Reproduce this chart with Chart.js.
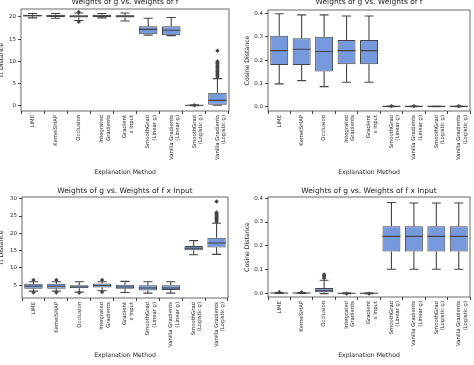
<!DOCTYPE html>
<html><head><meta charset="utf-8">
<script src="https://cdn.jsdelivr.net/npm/chart.js@4"></script>
<style>
html,body{margin:0;padding:0;background:#fff}
body{width:474px;height:365px;overflow:hidden;position:relative}
canvas{position:absolute}
</style></head><body>
<canvas id="c1" width="238" height="182" style="left:-2px;top:-2px"></canvas>
<canvas id="c2" width="234" height="182" style="left:240px;top:-2px"></canvas>
<canvas id="c3" width="238" height="182" style="left:-2px;top:183px"></canvas>
<canvas id="c4" width="234" height="182" style="left:240px;top:183px"></canvas>
<script>
// ---- categories ----
const categories = [["LIME"],["KernelSHAP"],["Occlusion"],["Integrated","Gradients"],["Gradient","x Input"],
  ["SmoothGrad","(Linear g)"],["Vanilla Gradients","(Linear g)"],["SmoothGrad","(Logistic g)"],["Vanilla Gradients","(Logistic g)"]];

// ---- Panel 1: l1 distance, weights of g vs weights of f ----
const l1F_lo  = [19.8, 19.7, 19.2, 19.8, 19.1, 15.9, 15.8, 0.0, 0.1];
const l1F_q1  = [20.1, 20.0, 19.9, 20.0, 19.9, 16.1, 15.9, 0.05, 0.2];
const l1F_med = [20.3, 20.25, 20.15, 20.25, 20.2, 17.2, 17.0, 0.1, 1.2];
const l1F_q3  = [20.5, 20.5, 20.4, 20.5, 20.4, 17.9, 17.9, 0.15, 2.9];
const l1F_hi  = [20.8, 20.8, 20.9, 20.8, 20.9, 19.7, 19.9, 0.2, 6.1];
const l1F_out = [[],[],[18.9, 21.1],[],[],[],[],[0.1],
  [6.5,6.8,7.1,7.4,7.7,8.0,8.3,8.6,8.9,9.2,9.5,9.8,10.0,12.4]];

// ---- Panel 2: cosine distance, weights of g vs weights of f ----
const cosF_lo  = [0.098, 0.112, 0.086, 0.105, 0.105, 0.0, 0.0, 0.0, 0.0];
const cosF_q1  = [0.179, 0.179, 0.151, 0.182, 0.182, 0.0008, 0.0008, 0.0008, 0.0008];
const cosF_med = [0.241, 0.247, 0.237, 0.241, 0.241, 0.001, 0.001, 0.001, 0.001];
const cosF_q3  = [0.305, 0.294, 0.301, 0.287, 0.287, 0.0012, 0.0012, 0.0012, 0.0012];
const cosF_hi  = [0.400, 0.395, 0.395, 0.390, 0.390, 0.002, 0.002, 0.002, 0.002];
const cosF_out = [[],[],[],[],[],[0.002],[0.002],[],[0.002]];

// ---- Panel 3: l1 distance, weights of g vs weights of f x input ----
const l1FI_lo  = [3.3, 3.3, 3.0, 3.4, 2.9, 2.7, 2.7, 13.8, 13.9];
const l1FI_q1  = [4.0, 4.0, 4.1, 4.3, 4.0, 3.5, 3.6, 15.1, 15.9];
const l1FI_med = [4.7, 4.7, 4.5, 4.9, 4.5, 4.2, 4.2, 15.7, 17.2];
const l1FI_q3  = [5.4, 5.4, 5.0, 5.5, 5.1, 5.0, 5.0, 16.3, 18.7];
const l1FI_hi  = [6.0, 6.0, 6.0, 6.0, 6.1, 6.0, 6.0, 17.9, 22.9];
const l1FI_out = [[6.5, 2.9],[6.5, 2.9],[2.8],[6.5, 3.0],[],[],[],[],
  [23.3,23.6,23.9,24.2,24.5,24.8,25.1,25.4,25.7,26.0,29.2]];

// ---- Panel 4: cosine distance, weights of g vs weights of f x input ----
const cosFI_lo  = [0.001, 0.001, 0.000, 0.000, 0.000, 0.102, 0.102, 0.102, 0.102];
const cosFI_q1  = [0.002, 0.002, 0.006, 0.001, 0.001, 0.177, 0.177, 0.177, 0.177];
const cosFI_med = [0.003, 0.003, 0.012, 0.002, 0.002, 0.240, 0.240, 0.240, 0.240];
const cosFI_q3  = [0.004, 0.004, 0.024, 0.003, 0.003, 0.282, 0.282, 0.282, 0.282];
const cosFI_hi  = [0.005, 0.005, 0.056, 0.004, 0.004, 0.382, 0.380, 0.380, 0.380];
const cosFI_out = [[0.006],[0.006],[0.065,0.070,0.075,0.081],[0.0],[0.0],[],[],[],[]];

// ---- tick values ----
const l1F_ticks = [0, 5, 10, 15, 20];
const cos_ticks = [0.0, 0.1, 0.2, 0.3, 0.4];
const l1FI_ticks = [5, 10, 15, 20, 25, 30];

const BOX_FILL = '#7599dc', LINE = '#454545', FONT = 'DejaVu Sans';

const boxPlugin = {
  id: 'boxwhisker',
  afterDatasetsDraw(chart) {
    const st = chart.$stats; if (!st) return;
    const {ctx, scales: {x, y}} = chart;
    const meta = chart.getDatasetMeta(0);
    ctx.save();
    ctx.strokeStyle = LINE; ctx.lineWidth = 1.1;
    st.med.forEach((m, i) => {
      const cx = x.getPixelForValue(i);
      const w = meta.data[i].width;
      const yq1 = y.getPixelForValue(st.q1[i]), yq3 = y.getPixelForValue(st.q3[i]);
      const ylo = y.getPixelForValue(st.lo[i]), yhi = y.getPixelForValue(st.hi[i]);
      const ym = y.getPixelForValue(m);
      ctx.beginPath();
      ctx.moveTo(cx, yq1); ctx.lineTo(cx, ylo);
      ctx.moveTo(cx, yq3); ctx.lineTo(cx, yhi);
      ctx.moveTo(cx - w/4, ylo); ctx.lineTo(cx + w/4, ylo);
      ctx.moveTo(cx - w/4, yhi); ctx.lineTo(cx + w/4, yhi);
      ctx.moveTo(cx - w/2, ym); ctx.lineTo(cx + w/2, ym);
      ctx.stroke();
    });
    ctx.restore();
  }
};
const framePlugin = {
  id: 'frame',
  afterDraw(chart) {
    const {ctx, chartArea: a} = chart;
    ctx.save(); ctx.strokeStyle = '#444'; ctx.lineWidth = 0.8;
    ctx.strokeRect(a.left, a.top, a.right - a.left, a.bottom - a.top);
    ctx.restore();
  }
};

function makePanel(id, p) {
  const outPts = [];
  p.out.forEach((arr, i) => arr.forEach(v => outPts.push({x: categories[i], y: v})));
  const chart = new Chart(document.getElementById(id), {
    type: 'bar',
    data: {
      labels: categories,
      datasets: [{
        data: p.q1.map((v, i) => [p.q1[i], p.q3[i]]),
        backgroundColor: BOX_FILL, borderColor: LINE, borderWidth: 1, borderSkipped: false,
        barPercentage: 0.8, categoryPercentage: 1.0, order: 2
      }, {
        type: 'line', data: outPts, showLine: false,
        pointStyle: 'rectRot', pointRadius: 2.2, pointBackgroundColor: LINE, pointBorderWidth: 0, order: 1
      }]
    },
    options: {
      responsive: false, animation: false, devicePixelRatio: 1,
      layout: {padding: {left: 0, top: 0, right: p.padR, bottom: 0}},
      plugins: {
        legend: {display: false}, tooltip: {enabled: false},
        title: {display: true, text: p.title, fullSize: false, color: '#222',
          font: {family: FONT, size: 7.5, weight: 'normal'}, padding: {top: p.tTop, bottom: p.tBot}}
      },
      scales: {
        x: {
          afterFit(s) { s.height = p.xH; },
          grid: {display: true, drawOnChartArea: false, drawTicks: true, tickLength: 3, color: '#444'},
          border: {display: false},
          ticks: {autoSkip: false, maxRotation: 90, minRotation: 90, padding: 1, color: '#262626',
            font: {family: FONT, size: 5.3}},
          title: {display: true, text: 'Explanation Method', color: '#262626',
            font: {family: FONT, size: 6.2}, padding: {top: 0, bottom: p.xtPad}}
        },
        y: {
          min: p.min, max: p.max,
          afterFit(s) { s.width = p.yW; },
          afterBuildTicks(s) { s.ticks = p.ticks.map(v => ({value: v})); },
          grid: {display: true, drawOnChartArea: false, drawTicks: true, tickLength: 3, color: '#444'},
          border: {display: false},
          ticks: {padding: 2, color: '#262626', font: {family: FONT, size: 5.5},
            callback: v => p.fmt(v)},
          title: {display: true, text: p.ytitle, color: '#262626',
            font: {family: FONT, size: 6.2}, padding: {top: p.ytPad, bottom: 0}}
        }
      }
    },
    plugins: [boxPlugin, framePlugin]
  });
  chart.$stats = {q1: p.q1, q3: p.q3, med: p.med, lo: p.lo, hi: p.hi};
  chart.draw();
}

const fInt = v => String(v);
const fDec = v => v.toFixed(1);

makePanel('c1', {title: 'Weights of g vs. Weights of f', ytitle: 'ℓ₁ Distance',
  lo: l1F_lo, q1: l1F_q1, med: l1F_med, q3: l1F_q3, hi: l1F_hi, out: l1F_out,
  min: -1.2, max: 21.8, ticks: l1F_ticks, fmt: fInt,
  padR: 7, tTop: 0, tBot: 2, xH: 69, xtPad: 3.6, yW: 23, ytPad: 0});
makePanel('c2', {title: 'Weights of g vs. Weights of f', ytitle: 'Cosine Distance',
  lo: cosF_lo, q1: cosF_q1, med: cosF_med, q3: cosF_q3, hi: cosF_hi, out: cosF_out,
  min: -0.019, max: 0.416, ticks: cos_ticks, fmt: fDec,
  padR: 3, tTop: 0, tBot: 3, xH: 69, xtPad: 3.6, yW: 28, ytPad: 3.8});
makePanel('c3', {title: 'Weights of g vs. Weights of f x Input', ytitle: 'ℓ₁ Distance',
  lo: l1FI_lo, q1: l1FI_q1, med: l1FI_med, q3: l1FI_q3, hi: l1FI_hi, out: l1FI_out,
  min: 1.3, max: 30.5, ticks: l1FI_ticks, fmt: fInt,
  padR: 8, tTop: 3.8, tBot: 1.2, xH: 67, xtPad: 6, yW: 24, ytPad: 0});
makePanel('c4', {title: 'Weights of g vs. Weights of f x Input', ytitle: 'Cosine Distance',
  lo: cosFI_lo, q1: cosFI_q1, med: cosFI_med, q3: cosFI_q3, hi: cosFI_hi, out: cosFI_out,
  min: -0.014, max: 0.405, ticks: cos_ticks, fmt: fDec,
  padR: 2, tTop: 3.8, tBot: 1.2, xH: 68, xtPad: 6, yW: 28, ytPad: 3.8});
</script>
</body></html>
